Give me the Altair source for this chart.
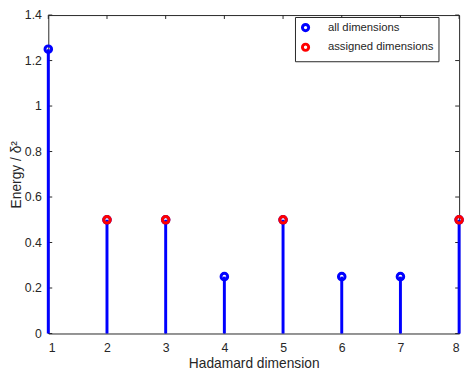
import altair as alt
import pandas as pd

dims = [1, 2, 3, 4, 5, 6, 7, 8]
energy = [1.25, 0.5, 0.5, 0.25, 0.5, 0.25, 0.25, 0.5]
assigned = [2, 3, 5, 8]
x_ticks = [1, 2, 3, 4, 5, 6, 7, 8]
y_ticks = [0, 0.2, 0.4, 0.6, 0.8, 1.0, 1.2, 1.4]
series_names = ["all dimensions", "assigned dimensions"]
series_colors = ["#0000ff", "#ff0000"]

W, H = 418, 324
TXT = "#262626"
FONT = "Liberation Sans"

stem_df = pd.DataFrame({"dim": dims, "energy": energy})
pts = [{"dim": d, "energy": e, "series": series_names[0]} for d, e in zip(dims, energy)]
pts += [{"dim": d, "energy": e, "series": series_names[1]} for d, e in zip(dims, energy) if d in assigned]
pts_df = pd.DataFrame(pts)
xt_df = pd.DataFrame({"t": x_ticks})
yt_df = pd.DataFrame({"t": y_ticks})

xscale = alt.Scale(domain=[1, 8], nice=False, zero=False)
yscale = alt.Scale(domain=[0, 1.4], nice=False)

xaxis = alt.Axis(values=x_ticks, ticks=False, grid=False, domain=False, labelPadding=8,
                 format="d", title="Hadamard dimension", titlePadding=3)
yaxis = alt.Axis(values=y_ticks, ticks=False, grid=False, domain=False, labelPadding=7,
                 format="~g", title="Energy / δ²", titlePadding=1)

stems = alt.Chart(stem_df).mark_rule(color="#0000ff", strokeWidth=3).encode(
    x=alt.X("dim:Q", scale=xscale, axis=xaxis),
    y=alt.Y("energy:Q", scale=yscale, axis=yaxis),
    y2=alt.Y2(datum=0),
)

points = alt.Chart(pts_df).mark_point(shape="circle", filled=False, strokeWidth=3, size=45, opacity=1).encode(
    x=alt.X("dim:Q", scale=xscale),
    y=alt.Y("energy:Q", scale=yscale),
    color=alt.Color("series:N", scale=alt.Scale(domain=series_names, range=series_colors),
                    legend=alt.Legend(title=None, orient="none", legendX=251, legendY=2,
                                      strokeColor=TXT, fillColor="white", padding=5,
                                      labelFontSize=11.5, labelColor=TXT, labelFont=FONT,
                                      symbolType="circle", symbolFillColor="white",
                                      symbolStrokeWidth=3, symbolSize=40, rowPadding=1,
                                      labelOffset=17, labelExpr="datum.label + '     '")),
)

xt_bottom = alt.Chart(xt_df).mark_rule(color=TXT, strokeWidth=1).encode(
    x=alt.X("t:Q", scale=xscale), y=alt.value(H), y2=alt.value(H - 4))
xt_top = alt.Chart(xt_df).mark_rule(color=TXT, strokeWidth=1).encode(
    x=alt.X("t:Q", scale=xscale), y=alt.value(0), y2=alt.value(4))
yt_left = alt.Chart(yt_df).mark_rule(color=TXT, strokeWidth=1).encode(
    y=alt.Y("t:Q", scale=yscale), x=alt.value(0), x2=alt.value(4))
yt_right = alt.Chart(yt_df).mark_rule(color=TXT, strokeWidth=1).encode(
    y=alt.Y("t:Q", scale=yscale), x=alt.value(W - 4), x2=alt.value(W))

chart = alt.layer(xt_bottom, xt_top, yt_left, yt_right, stems, points).properties(
    width=W, height=H,
    autosize=alt.AutoSizeParams(type="none"),
    padding={"left": 41, "top": 4, "right": 7, "bottom": 36},
).configure_view(stroke=TXT, strokeWidth=1).configure_axis(
    labelFont=FONT, titleFont=FONT, labelFontSize=12.5, titleFontSize=14,
    labelColor=TXT, titleColor=TXT, titleFontWeight="normal",
)

chart.save("out.html", embed_options={"renderer": "svg", "actions": False})
